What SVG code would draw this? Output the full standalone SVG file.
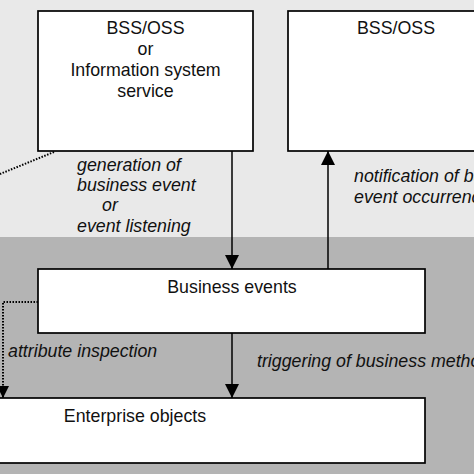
<svg xmlns="http://www.w3.org/2000/svg" width="474" height="474" viewBox="0 0 474 474">
<defs>
<marker id="ah" viewBox="0 0 14 14" markerWidth="14" markerHeight="14" refX="14" refY="7" orient="auto" markerUnits="userSpaceOnUse">
<path d="M0,0 L14,7 L0,14 Z" fill="#000"/>
</marker>
<marker id="ahs" viewBox="0 0 14 14" markerWidth="12" markerHeight="12" refX="14" refY="7" orient="auto" markerUnits="userSpaceOnUse">
<path d="M0,0 L14,7 L0,14 Z" fill="#000"/>
</marker>
</defs>
<style>
.box{fill:#fff;stroke:#000;stroke-width:1.7}
.t{font-family:"Liberation Sans",Arial,sans-serif;font-size:17.8px;fill:#111}
.c{text-anchor:middle}
.i{font-style:italic}
.ln{stroke:#000;stroke-width:1.5;fill:none}
.dot{stroke:#000;stroke-width:2;stroke-dasharray:1.5,1.5;fill:none}
</style>
<rect x="0" y="0" width="474" height="237" fill="#e9e9e9"/>
<rect x="0" y="237" width="474" height="237" fill="#b4b4b4"/>
<g id="bss1">
<rect class="box" x="38" y="11" width="215" height="140"/>
<text class="t c" x="145.5" y="34">BSS/OSS</text>
<text class="t c" x="145.5" y="55">or</text>
<text class="t c" x="145.5" y="76">Information system</text>
<text class="t c" x="145.5" y="97">service</text>
</g>
<g id="bss2">
<rect class="box" x="288" y="11" width="200" height="140"/>
<text class="t c" x="396" y="34">BSS/OSS</text>
</g>
<g id="events">
<rect class="box" x="38" y="269" width="387" height="64"/>
<text class="t c" x="232" y="293">Business events</text>
</g>
<g id="enterprise">
<rect class="box" x="-10" y="398" width="435" height="65"/>
<text class="t c" x="135" y="422">Enterprise objects</text>
</g>
<g id="connectors">
<line class="ln" x1="232" y1="151" x2="232" y2="269" marker-end="url(#ah)"/>
<line class="ln" x1="328" y1="269" x2="328" y2="151" marker-end="url(#ah)"/>
<line class="ln" x1="232" y1="333" x2="232" y2="398" marker-end="url(#ah)"/>
<line class="dot" x1="54" y1="152" x2="0" y2="174"/>
<polyline class="dot" points="38,302 3,302 3,398" marker-end="url(#ahs)"/>
</g>
<g id="labels">
<text class="t i" x="77" y="171">generation of</text>
<text class="t i" x="77" y="191">business event</text>
<text class="t i" x="102" y="211">or</text>
<text class="t i" x="77" y="232">event listening</text>
<text class="t i" x="354" y="182">notification of business</text>
<text class="t i" x="354" y="203">event occurrence</text>
<text class="t i" x="8" y="357">attribute inspection</text>
<text class="t i" x="257" y="367">triggering of business methods</text>
</g>
</svg>
